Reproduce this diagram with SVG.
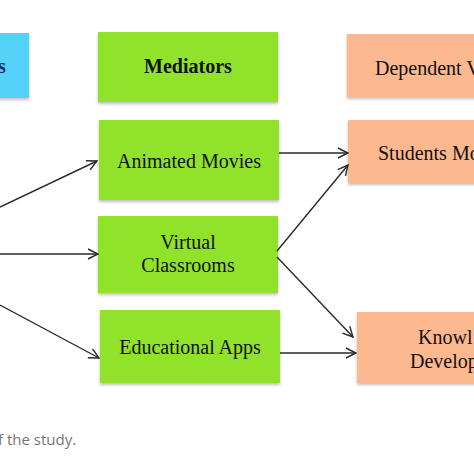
<svg xmlns="http://www.w3.org/2000/svg" width="474" height="474" viewBox="0 0 474 474">
<style>
.t{font-family:"Liberation Serif","Times New Roman",serif;font-size:20px;fill:#111}
.b{font-weight:bold}
.g{fill:#90e22c}
.o{fill:#fcb88f}
.bl{fill:#55d2fa}
.c{stroke:#2a2a2a;stroke-width:1.4;fill:none}
.cap{font-family:"Open Sans",sans-serif;font-size:15px;fill:#777}
</style>
<defs>
<filter id="sh" x="-10%" y="-10%" width="120%" height="130%">
<feDropShadow dx="0" dy="2" stdDeviation="1.5" flood-color="#000" flood-opacity="0.25"/>
</filter>
<marker id="ar" viewBox="0 0 12 12" refX="11" refY="6" markerWidth="12" markerHeight="12" markerUnits="userSpaceOnUse" orient="auto">
<path d="M1,1 L11,6 L1,11" fill="none" stroke="#2a2a2a" stroke-width="1.4"/>
</marker>
</defs>
<rect width="474" height="474" fill="#fff"/>
<g id="independent">
<rect class="bl" x="-10" y="33" width="39" height="65" filter="url(#sh)"/>
<text class="t b" x="-2" y="73" fill="#1a2a5a" style="fill:#1a2a5a">s</text>
</g>
<g id="mediators">
<rect class="g" x="98" y="32" width="180" height="70" filter="url(#sh)"/>
<text class="t b" x="188" y="73" text-anchor="middle">Mediators</text>
</g>
<g id="dependent">
<rect class="o" x="347" y="34" width="140" height="63" filter="url(#sh)"/>
<text class="t" x="375" y="75">Dependent V</text>
</g>
<g id="animated">
<rect class="g" x="99" y="120" width="180" height="80" filter="url(#sh)"/>
<text class="t" x="189" y="168" text-anchor="middle">Animated Movies</text>
</g>
<g id="virtual">
<rect class="g" x="98" y="216" width="180" height="77" filter="url(#sh)"/>
<text class="t" x="188" y="249" text-anchor="middle">Virtual</text>
<text class="t" x="188" y="272" text-anchor="middle">Classrooms</text>
</g>
<g id="educational">
<rect class="g" x="100" y="310" width="180" height="73" filter="url(#sh)"/>
<text class="t" x="190" y="354" text-anchor="middle">Educational Apps</text>
</g>
<g id="students">
<rect class="o" x="348" y="120" width="140" height="63" filter="url(#sh)"/>
<text class="t" x="378" y="160">Students Mo</text>
</g>
<g id="knowledge">
<rect class="o" x="357" y="312" width="130" height="71" filter="url(#sh)"/>
<text class="t" x="418" y="344">Knowl</text>
<text class="t" x="410" y="368">Develop</text>
</g>
<g id="connectors">
<line class="c" x1="0" y1="207" x2="97" y2="161" marker-end="url(#ar)"/>
<line class="c" x1="0" y1="254" x2="98" y2="254" marker-end="url(#ar)"/>
<line class="c" x1="0" y1="305" x2="99" y2="358" marker-end="url(#ar)"/>
<line class="c" x1="279" y1="153" x2="348" y2="153" marker-end="url(#ar)"/>
<line class="c" x1="277" y1="251" x2="348" y2="165" marker-end="url(#ar)"/>
<line class="c" x1="277" y1="257" x2="353" y2="337" marker-end="url(#ar)"/>
<line class="c" x1="280" y1="353" x2="356" y2="353" marker-end="url(#ar)"/>
</g>
<text class="cap" x="-2" y="445">f the study.</text>
</svg>
